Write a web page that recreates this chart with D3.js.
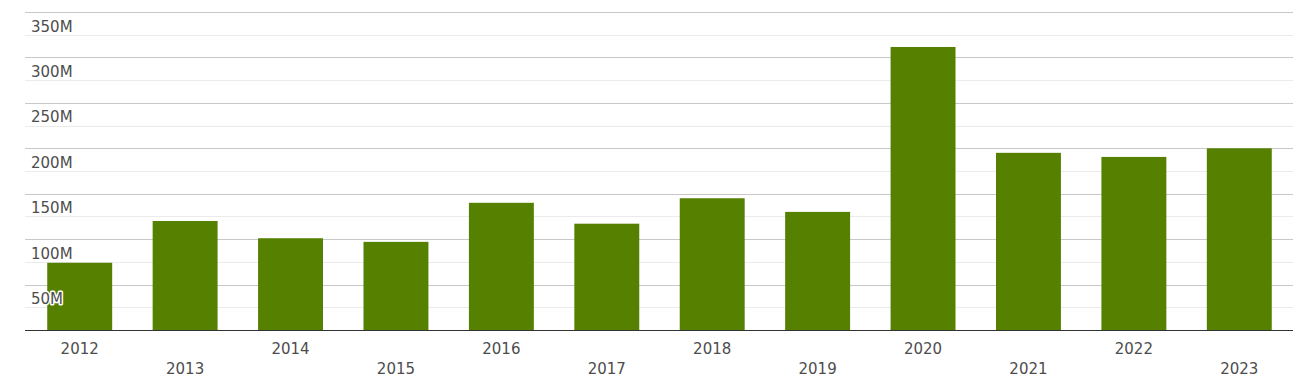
<!DOCTYPE html>
<html>
<head>
<meta charset="utf-8">
<script src="https://cdn.jsdelivr.net/npm/d3@7"></script>
<style>
  body { margin: 0; background: #fff; }
  svg text { font-family: "DejaVu Sans", Verdana, sans-serif; font-size: 15px; fill: #4d4d4d; }
</style>
</head>
<body>
<svg id="chart"></svg>
<script>
// values in millions
const years = ["2012","2013","2014","2015","2016","2017","2018","2019","2020","2021","2022","2023"];
const amounts = [74, 120, 101, 97, 140, 117, 145, 130, 311.5, 195, 190.5, 200];
const majorTicks = [50, 100, 150, 200, 250, 300, 350];
const minorTicks = [25, 75, 125, 175, 225, 275, 325];

const width = 1293, height = 384;
const margin = {top: 12, right: 1, bottom: 54, left: 25};

const svg = d3.select("#chart")
    .attr("width", width)
    .attr("height", height);

const y = d3.scaleLinear()
    .domain([0, 350])
    .range([height - margin.bottom, margin.top]);

const x = d3.scaleBand()
    .domain(years)
    .range([27, 1292])
    .paddingInner(0.384)
    .paddingOuter(0.192);

// minor grid
svg.append("g").selectAll("line")
    .data(minorTicks)
    .join("line")
    .attr("x1", margin.left).attr("x2", width)
    .attr("y1", d => Math.round(y(d)) + 0.5).attr("y2", d => Math.round(y(d)) + 0.5)
    .attr("stroke", "#ebebeb");

// major grid
svg.append("g").selectAll("line")
    .data(majorTicks)
    .join("line")
    .attr("x1", margin.left).attr("x2", width)
    .attr("y1", d => Math.round(y(d)) + 0.5).attr("y2", d => Math.round(y(d)) + 0.5)
    .attr("stroke", "#c8c8c8");

// bars
svg.append("g").selectAll("rect")
    .data(amounts)
    .join("rect")
    .attr("x", (d, i) => x(years[i]))
    .attr("width", x.bandwidth())
    .attr("y", d => y(d))
    .attr("height", d => y(0) - y(d))
    .attr("fill", "#558000");

// baseline
svg.append("line")
    .attr("x1", margin.left).attr("x2", width)
    .attr("y1", Math.round(y(0)) + 0.5).attr("y2", Math.round(y(0)) + 0.5)
    .attr("stroke", "#333");

// y labels (under each line, with white halo)
svg.append("g").selectAll("text")
    .data(majorTicks)
    .join("text")
    .attr("x", 31)
    .attr("y", d => y(d) + 19.5)
    .attr("stroke", "#fff")
    .attr("stroke-width", 3)
    .attr("stroke-linejoin", "round")
    .attr("paint-order", "stroke")
    .text(d => d + "M");

// x labels, staggered
svg.append("g").selectAll("text")
    .data(years)
    .join("text")
    .attr("x", d => x(d) + x.bandwidth() / 2)
    .attr("y", (d, i) => i % 2 === 0 ? 354 : 374)
    .attr("text-anchor", "middle")
    .text(d => d);
</script>
</body>
</html>
